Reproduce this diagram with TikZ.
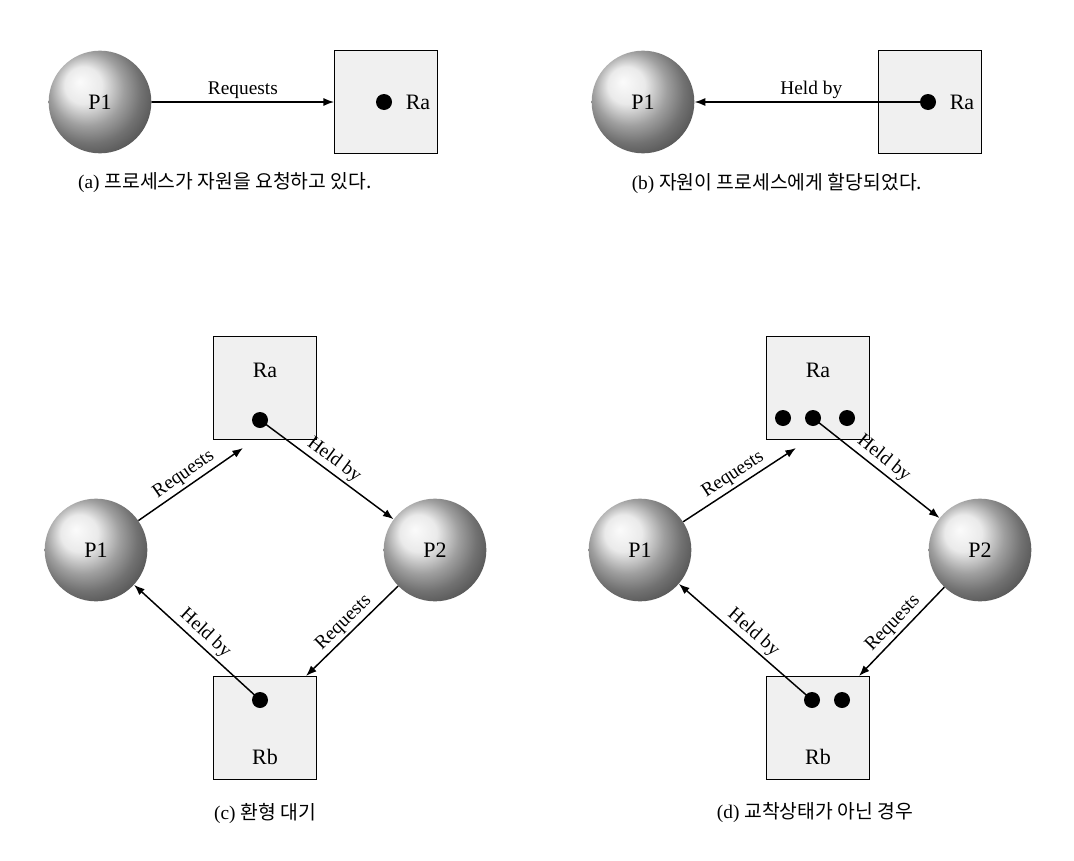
\documentclass[tikz,border=0pt]{standalone}
\usepackage{fontspec}
\setmainfont{Liberation Serif}
\newfontfamily\kr{Noto Sans CJK KR}
\usetikzlibrary{arrows.meta}
\begin{document}
\begin{tikzpicture}[x=0.75pt,y=-0.75pt,
  proc/.style={circle,minimum size=77pt,inner sep=0pt,shading=ball,ball color=gray!22,font=\fontsize{16.5}{18}\selectfont},
  res/.style={draw,fill=gray!12,minimum size=77pt,inner sep=0pt,line width=0.8pt},
  tok/.style={circle,fill=black,minimum size=12pt,inner sep=0pt},
  arr/.style={-{Latex[length=8pt,width=6pt]},line width=1.1pt},
  lab/.style={font=\fontsize{14.5}{16}\selectfont,inner sep=2pt},
  captxt/.style={font=\fontsize{14.5}{16}\selectfont},
  txt/.style={font=\fontsize{16.5}{18}\selectfont}]
\useasboundingbox (0,0) rectangle (1074,860);
% (a)
\node[proc] (pa) at (100,102) {P1};
\node[res] (ra) at (386,102) {};
\node[tok] (ta) at (384,102) {};
\node[txt] (ra-t) at (418,102) {Ra};
\draw[arr] (pa) -- (ra.west) node[lab,midway,above] {Requests};
\node[captxt] (capa) at (225,183) {(a) {\kr 프로세스가 자원을 요청하고 있다.}};
% (b)
\node[proc] (pb) at (643,102) {P1};
\node[res] (rb) at (930,102) {};
\node[tok] (tb) at (928,102) {};
\node[txt] (rb-t) at (962,102) {Ra};
\draw[arr] (tb.center) -- (pb) node[lab,midway,above] {Held by};
\node[captxt] (capb) at (777,183) {(b) {\kr 자원이 프로세스에게 할당되었다.}};
% (c)
\node[proc] (c1) at (96,550) {P1};
\node[proc] (c2) at (435,550) {P2};
\node[res] (cra) at (265,388) {};
\node[res] (crb) at (265,728) {};
\node[txt] (cra-t) at (265,370) {Ra};
\node[txt] (crb-t) at (265,757) {Rb};
\node[tok] (cta) at (260,420) {};
\node[tok] (ctb) at (260,700) {};
\draw[arr] (c1) -- (243,448) coordinate (c1e) node[lab,midway,above,sloped] {Requests};
\draw[arr] (cta.center) -- (c2) node[lab,midway,above,sloped] {Held by};
\draw[arr] (c2) -- (306,676) coordinate (c2e) node[lab,midway,above,sloped] {Requests};
\draw[arr] (ctb.center) -- (c1) node[lab,midway,above,sloped] {Held by};
\node[captxt] (capc) at (265,813) {(c) {\kr 환형 대기}};
% (d)
\node[proc] (d1) at (640,550) {P1};
\node[proc] (d2) at (980,550) {P2};
\node[res] (dra) at (818,388) {};
\node[res] (drb) at (818,728) {};
\node[txt] (dra-t) at (818,370) {Ra};
\node[txt] (drb-t) at (818,757) {Rb};
\node[tok] (da1) at (783,418) {};
\node[tok] (da2) at (813,418) {};
\node[tok] (da3) at (847,418) {};
\node[tok] (db1) at (812,700) {};
\node[tok] (db2) at (842,700) {};
\draw[arr] (d1) -- (796,448) coordinate (d1e) node[lab,midway,above,sloped] {Requests};
\draw[arr] (da2.center) -- (d2) node[lab,midway,above,sloped] {Held by};
\draw[arr] (d2) -- (859,676) coordinate (d2e) node[lab,midway,above,sloped] {Requests};
\draw[arr] (db1.center) -- (d1) node[lab,midway,above,sloped] {Held by};
\node[captxt] (capd) at (815,813) {(d) {\kr 교착상태가 아닌 경우}};
\end{tikzpicture}
\end{document}
